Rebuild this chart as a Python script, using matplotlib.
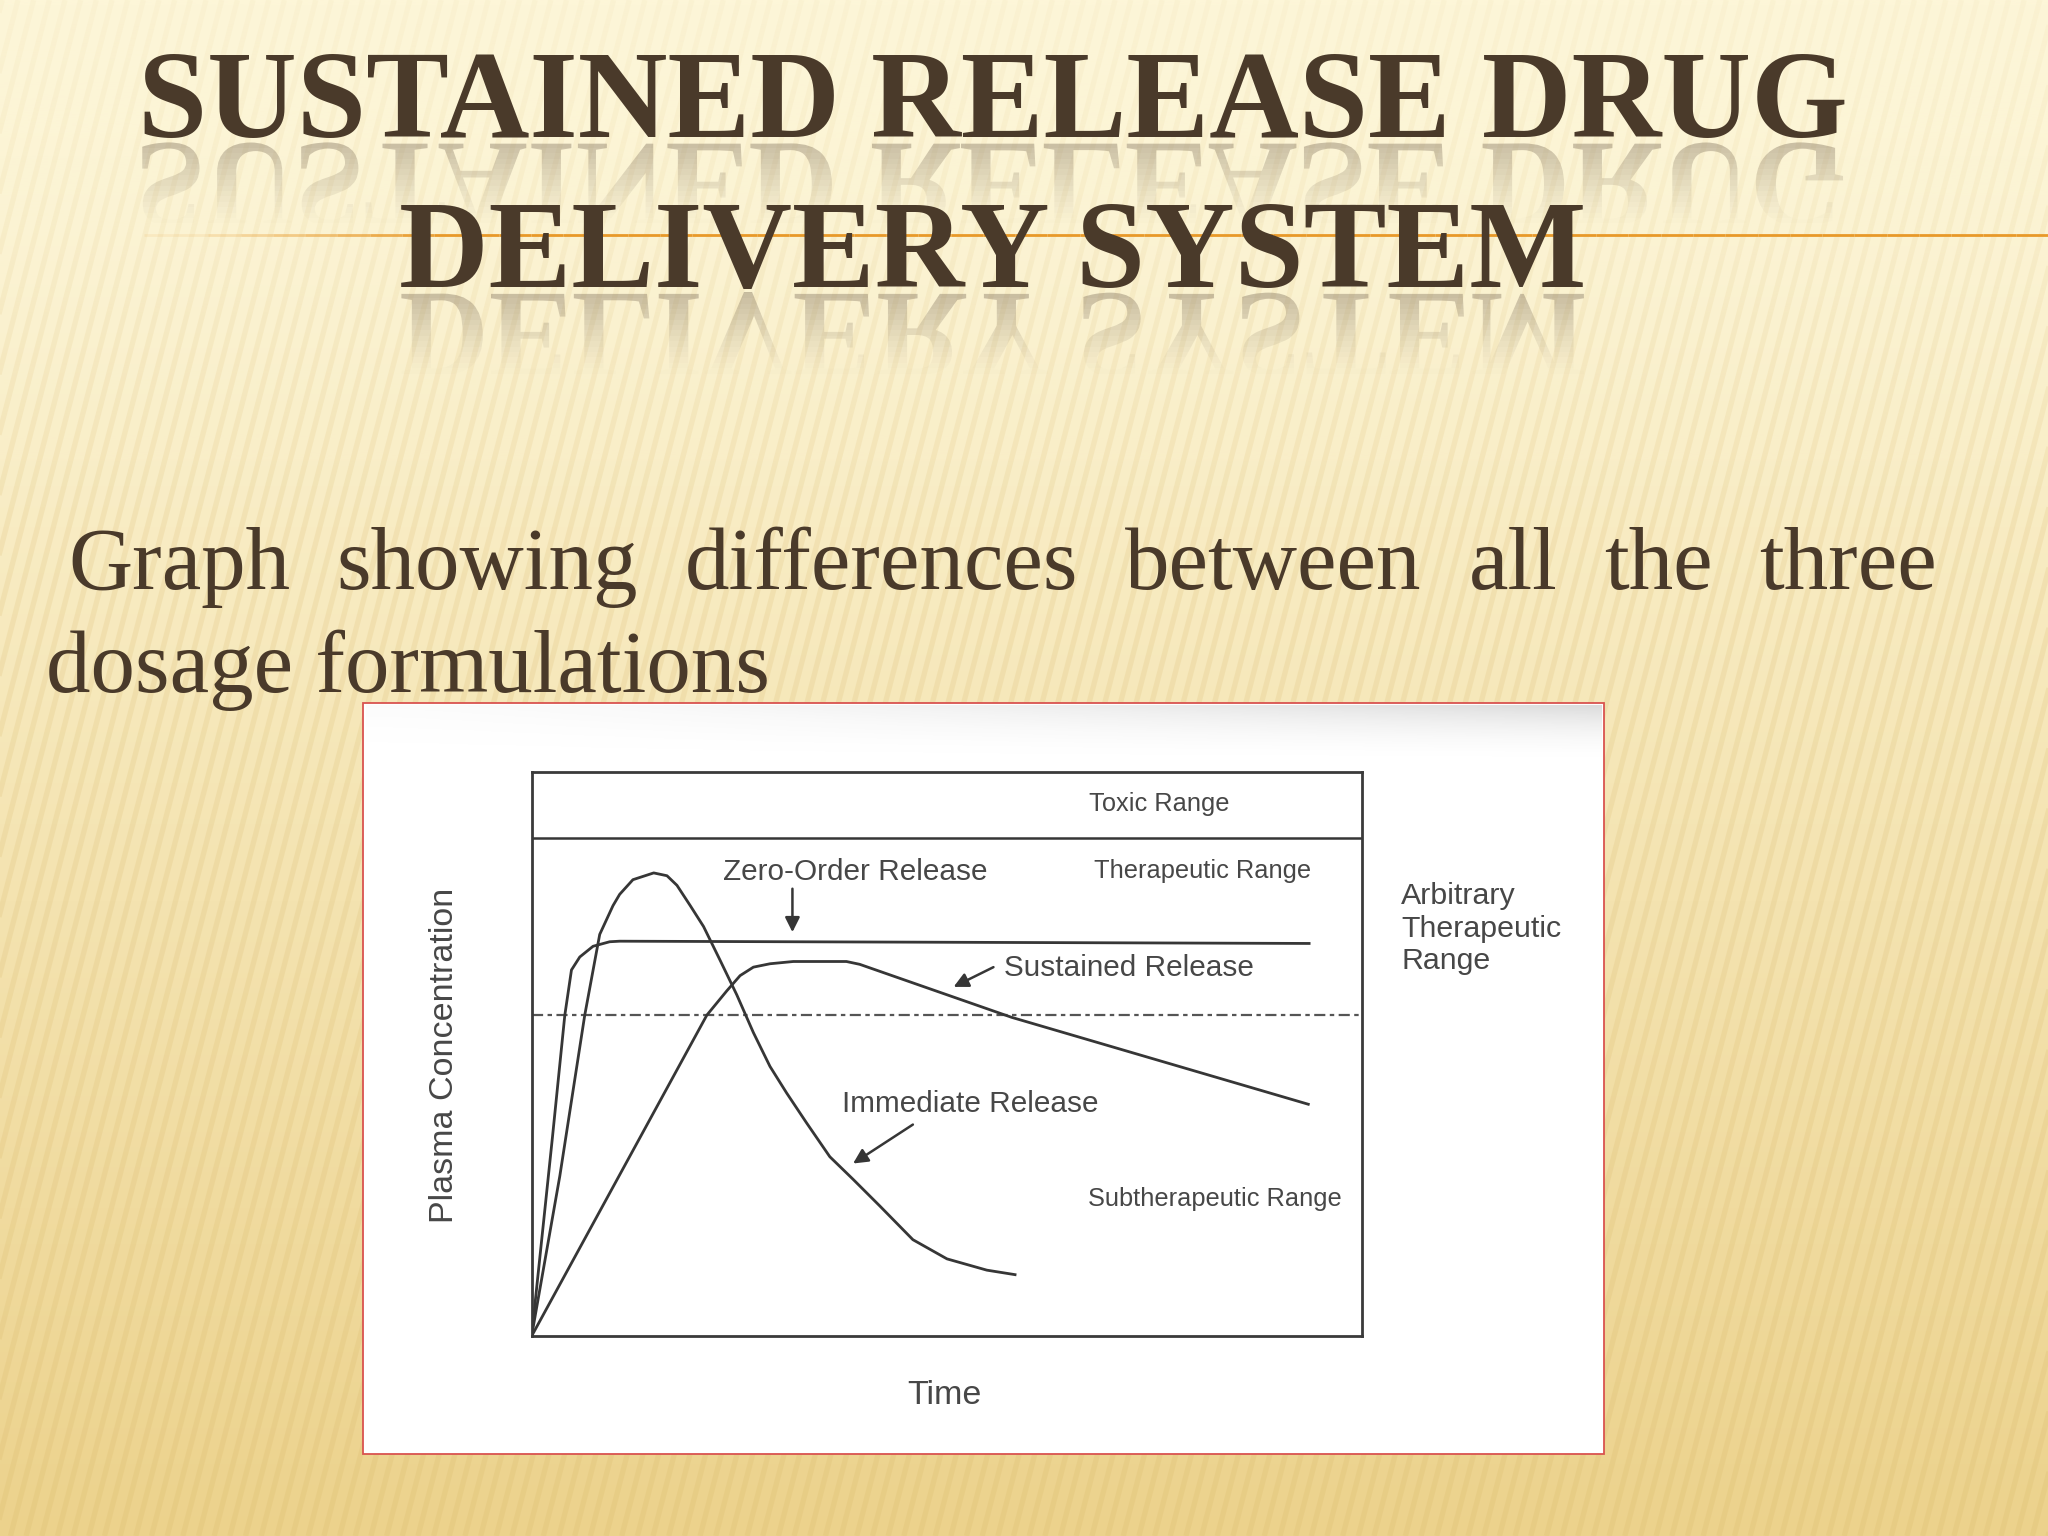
import matplotlib
matplotlib.use("Agg")
import matplotlib.pyplot as plt
import numpy as np
from matplotlib.textpath import TextPath
from matplotlib.font_manager import FontProperties
from matplotlib.patches import PathPatch, Rectangle
from matplotlib.transforms import Affine2D
from matplotlib.collections import LineCollection

# ---- chart values (time / plasma concentration, arbitrary units 0-100) ----
time_zero_order = [0, 2.5, 4.0, 4.8, 5.8, 7.4, 9.4, 10.6, 93.6]
conc_zero_order = [0, 35.1, 56.9, 64.9, 67.2, 69.1, 69.9, 70.0, 69.6]

time_immediate = [0, 3.4, 6.4, 8.2, 9.8, 10.6, 12.2, 14.7, 16.3, 17.5, 19.1, 20.7,
                  22.7, 24.7, 26.7, 28.7, 30.7, 33.1, 35.9, 38.7, 41.9, 45.9,
                  50.0, 54.8, 58.2]
conc_immediate = [0, 28.4, 56.9, 71.2, 76.3, 78.3, 80.9, 82.1, 81.6, 79.9, 76.3, 72.6,
                  66.6, 60.5, 53.8, 47.8, 43.1, 37.8, 31.8, 27.8, 23.1, 17.1,
                  13.7, 11.7, 10.9]

time_sustained = [0, 21.1, 23.5, 25.1, 26.7, 28.7, 31.5, 37.9, 39.5, 46.7, 57.8, 93.5]
conc_sustained = [0, 56.9, 61.2, 63.9, 65.4, 66.0, 66.4, 66.4, 65.9, 62.2, 56.5, 41.1]

toxic_level = 88.3
subtherapeutic_level = 56.9

title_lines = ["SUSTAINED RELEASE DRUG", "DELIVERY SYSTEM"]
body_line1 = "Graph showing differences between all the three"
body_line2 = "dosage formulations"

# ---- page set-up (background axes in slide pixel units) ----
W, H = 1568, 1176
fig = plt.figure(figsize=(20.48, 15.36), dpi=100)
bg = fig.add_axes([0, 0, 1, 1])
bg.set_xlim(0, W)
bg.set_ylim(H, 0)
bg.axis("off")

t = np.linspace(0, 1, 300)[:, None, None] ** 1.2
top_col = np.array([253, 246, 216]) / 255
bot_col = np.array([236, 210, 140]) / 255
grad = top_col * (1 - t) + bot_col * t
grad = np.repeat(grad, 2, axis=1)
bg.imshow(grad, extent=[0, W, H, 0], aspect="auto", zorder=0)

# slanted stripes
segs = []
for x0 in np.arange(-400, W + 40, 12):
    segs.append([(x0, H), (x0 + 0.26 * H, 0)])
bg.add_collection(LineCollection(segs, colors=[(0.82, 0.67, 0.34)], linewidths=3.8,
                                 alpha=0.15, zorder=1))

# lighter top fade
fade = np.zeros((200, 2, 4))
fade[..., :3] = top_col
fade[..., 3] = np.linspace(0.7, 0.0, 200)[:, None]
bg.imshow(fade, extent=[0, W, 420, 0], aspect="auto", zorder=1.5)

# orange rule under the title
xs = np.linspace(110, W, 60)
rule = [[(xs[i], 180), (xs[i + 1], 180)] for i in range(len(xs) - 1)]
rule_alpha = np.clip((xs[:-1] - 110) / 220, 0.1, 1.0)
rule_cols = [(0.91, 0.60, 0.16, a) for a in rule_alpha]
bg.add_collection(LineCollection(rule, colors=rule_cols, linewidths=2.0, zorder=2))

renderer = fig.canvas.get_renderer()
px_per_unit = 2048 / W
text_col = "#4a3a2a"


def fit_width(txt, width_units):
    w = txt.get_window_extent(renderer).width / px_per_unit
    txt.set_fontsize(txt.get_fontsize() * width_units / w)


def reflect(s, size_pt, cx, baseline, depth=66, bands=16):
    fp = FontProperties(family="Liberation Serif", weight="bold")
    size_units = size_pt * (100 / 72) / px_per_unit
    tp = TextPath((0, 0), s, size=size_units, prop=fp)
    ext = tp.get_extents()
    path = Affine2D().translate(-(ext.x0 + ext.x1) / 2 + cx, baseline + 5).transform_path(tp)
    h = depth / bands
    for k in range(bands):
        patch = PathPatch(path, facecolor="#857660", edgecolor="none",
                          alpha=0.45 * (1 - k / bands) ** 1.3, zorder=2.5,
                          transform=bg.transData)
        bg.add_patch(patch)
        clip = Rectangle((0, baseline + k * h), W, h, transform=bg.transData)
        patch.set_clip_path(clip)


title_specs = [(title_lines[0], 760, 105, 1310), (title_lines[1], 760, 220, 910)]
for s, cx, base, width in title_specs:
    tt = bg.text(cx, base, s, ha="center", va="baseline", fontsize=90,
                 family="Liberation Serif", weight="bold", color=text_col, zorder=3)
    fit_width(tt, width)
    reflect(s, tt.get_fontsize(), cx, base)

# justified body line
body_size = 64
words = body_line1.split()
wtexts = [bg.text(0, 451, w, ha="left", va="baseline", fontsize=body_size,
                  family="Liberation Serif", color=text_col, zorder=3) for w in words]
widths = [wt.get_window_extent(renderer).width / px_per_unit for wt in wtexts]
left, right = 52, 1483
gap = (right - left - sum(widths)) / (len(words) - 1)
xpos = left
for wt, w in zip(wtexts, widths):
    wt.set_x(xpos)
    xpos += w + gap
bg.text(35, 530, body_line2, ha="left", va="baseline", fontsize=body_size,
        family="Liberation Serif", color=text_col, zorder=3)

# white picture panel with red border
bg.add_patch(Rectangle((278, 538), 950, 575, facecolor="white", edgecolor="#d9534f",
                       linewidth=1.3, zorder=4))
shade = np.zeros((40, 100, 4))
shade[..., :3] = 0.55
u = np.linspace(0, 1, 100)[None, :]
v = np.linspace(0, 1, 40)[:, None]
shade[..., 3] = (1 - v) ** 2 * (0.03 + 0.28 * u ** 1.5)
bg.imshow(shade, extent=[280, 1226, 585, 540], aspect="auto", zorder=4.5)

# ---- the chart ----
ax = fig.add_axes([407 / W, 1 - 1023 / H, 636 / W, 432 / H], zorder=5)
ax.set_facecolor("none")
ax.set_xlim(0, 100)
ax.set_ylim(0, 100)
ax.set_xticks([])
ax.set_yticks([])
for sp in ax.spines.values():
    sp.set_linewidth(2.0)
    sp.set_color("#3a3a3a")

line_col = "#363636"
ax.axhline(toxic_level, color=line_col, lw=1.8)
ax.axhline(subtherapeutic_level, color="#555555", lw=1.6, dashes=(5, 2, 2, 2))
ax.plot(time_zero_order, conc_zero_order, color=line_col, lw=2.0, solid_joinstyle="round")
ax.plot(time_immediate, conc_immediate, color=line_col, lw=2.0, solid_joinstyle="round")
ax.plot(time_sustained, conc_sustained, color=line_col, lw=2.0, solid_joinstyle="round")

lab_col = "#474747"
sans = "Liberation Sans"
small, medium, big = 18.3, 21.4, 24.5
ax.text(75.6, 94.4, "Toxic Range", ha="center", va="center", fontsize=small, family=sans, color=lab_col)
ax.text(80.8, 82.4, "Therapeutic Range", ha="center", va="center", fontsize=small, family=sans, color=lab_col)
ax.text(82.2, 24.3, "Subtherapeutic Range", ha="center", va="center", fontsize=small, family=sans, color=lab_col)
ax.text(39.0, 82.3, "Zero-Order Release", ha="center", va="center", fontsize=medium, family=sans, color=lab_col)
ax.text(56.9, 65.3, "Sustained Release", ha="left", va="center", fontsize=medium, family=sans, color=lab_col)
ax.text(37.4, 41.2, "Immediate Release", ha="left", va="center", fontsize=medium, family=sans, color=lab_col)
ax.text(104.7, 72.2, "Arbitrary\nTherapeutic\nRange", ha="left", va="center", fontsize=21.9,
        family=sans, color=lab_col, linespacing=1.2, clip_on=False)
ax.text(-10.5, 49.8, "Plasma Concentration", ha="center", va="center", rotation=90,
        fontsize=big, family=sans, color=lab_col, clip_on=False)
ax.text(49.7, -10.6, "Time", ha="center", va="center", fontsize=big, family=sans,
        color=lab_col, clip_on=False)

arrow = dict(arrowstyle="-|>", color=line_col, lw=1.8, mutation_scale=22, shrinkA=0, shrinkB=0)
ax.annotate("", xy=(31.4, 71.6), xytext=(31.4, 79.3), arrowprops=arrow)
ax.annotate("", xy=(50.8, 61.9), xytext=(55.6, 65.4), arrowprops=arrow)
ax.annotate("", xy=(38.7, 30.6), xytext=(45.9, 37.5), arrowprops=arrow)

fig.savefig("out.png", dpi=100)
